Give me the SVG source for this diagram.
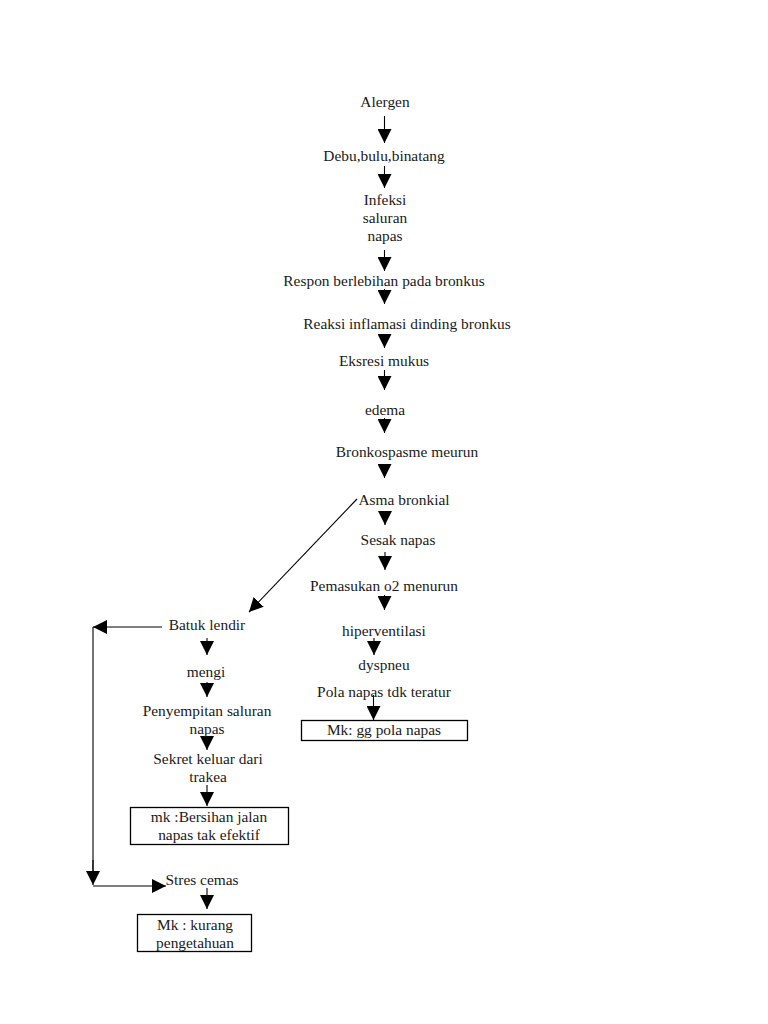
<svg xmlns="http://www.w3.org/2000/svg" width="768" height="1024" viewBox="0 0 768 1024">
<style>
text{font-family:"Liberation Serif","Times New Roman",serif;font-size:15.4px;fill:#1a1a1a;text-anchor:middle}
.c line{stroke:#000;stroke-width:1.1;fill:none;marker-end:url(#ah)}
.c line.n{marker-end:none}
rect.b{fill:#fff;stroke:#000;stroke-width:1.3}
</style>
<defs>
<marker id="ah" markerUnits="userSpaceOnUse" markerWidth="14" markerHeight="14" refX="14" refY="7" orient="auto" viewBox="0 0 14 14">
<path d="M0,0 L14,7 L0,14 z" fill="#000"/>
</marker>
</defs>
<rect width="768" height="1024" fill="#fff"/>
<g class="c" id="connectors">
<line x1="384.5" y1="116" x2="384.5" y2="143"/>
<line x1="384.5" y1="166" x2="384.5" y2="188"/>
<line x1="384.5" y1="250" x2="384.5" y2="271"/>
<line x1="384.5" y1="289" x2="384.5" y2="304"/>
<line x1="384.5" y1="334" x2="384.5" y2="348"/>
<line x1="384.5" y1="370" x2="384.5" y2="390"/>
<line x1="384.5" y1="418" x2="384.5" y2="433"/>
<line x1="384.5" y1="464" x2="384.5" y2="478"/>
<line x1="385" y1="512" x2="385" y2="525"/>
<line x1="385" y1="552" x2="385" y2="570"/>
<line x1="384.5" y1="595" x2="384.5" y2="610"/>
<line x1="374" y1="638" x2="374" y2="655"/>
<line x1="373.5" y1="695" x2="373.5" y2="720"/>
<line x1="357" y1="499" x2="249" y2="612"/>
<line x1="162" y1="627" x2="93" y2="627"/>
<line class="n" x1="93" y1="627" x2="93" y2="872"/>
<line x1="93" y1="860" x2="93" y2="885"/>
<line x1="93" y1="886" x2="166" y2="886"/>
<line x1="207" y1="638" x2="207" y2="655"/>
<line x1="207" y1="682" x2="207" y2="697"/>
<line x1="207" y1="736" x2="207" y2="750"/>
<line x1="207" y1="785" x2="207" y2="806"/>
<line x1="207" y1="888" x2="207" y2="909"/>
</g>
<g id="n1"><text x="385" y="107">Alergen</text></g>
<g id="n2"><text x="384" y="161">Debu,bulu,binatang</text></g>
<g id="n3"><text x="385" y="205">Infeksi</text><text x="385" y="223">saluran</text><text x="385" y="241">napas</text></g>
<g id="n4"><text x="384" y="286">Respon berlebihan pada bronkus</text></g>
<g id="n5"><text x="407" y="329">Reaksi inflamasi dinding bronkus</text></g>
<g id="n6"><text x="384" y="366">Eksresi mukus</text></g>
<g id="n7"><text x="385" y="415">edema</text></g>
<g id="n8"><text x="407" y="457">Bronkospasme meurun</text></g>
<g id="n9"><text x="404" y="505">Asma bronkial</text></g>
<g id="n10"><text x="398" y="545">Sesak napas</text></g>
<g id="n11"><text x="384" y="591">Pemasukan o2 menurun</text></g>
<g id="n12"><text x="384" y="636">hiperventilasi</text></g>
<g id="n13"><text x="384" y="670">dyspneu</text></g>
<g id="n14"><text x="384" y="697">Pola napas tdk teratur</text></g>
<g id="n15"><rect class="b" x="301.5" y="720.5" width="166" height="20"/><text x="384" y="735">Mk:  gg pola napas</text></g>
<g id="n16"><text x="207" y="630">Batuk lendir</text></g>
<g id="n17"><text x="206" y="677">mengi</text></g>
<g id="n18"><text x="207" y="716">Penyempitan saluran</text><text x="207" y="734">napas</text></g>
<g id="n19"><text x="208" y="764">Sekret keluar dari</text><text x="208" y="782">trakea</text></g>
<g id="n20"><rect class="b" x="130.5" y="807.5" width="158" height="37"/><text x="209" y="822">mk :Bersihan jalan</text><text x="209" y="840">napas tak efektif</text></g>
<g id="n21"><text x="202" y="885">Stres cemas</text></g>
<g id="n22"><rect class="b" x="137.5" y="914.5" width="114" height="37"/><text x="195" y="930">Mk : kurang</text><text x="195" y="948">pengetahuan</text></g>
</svg>
